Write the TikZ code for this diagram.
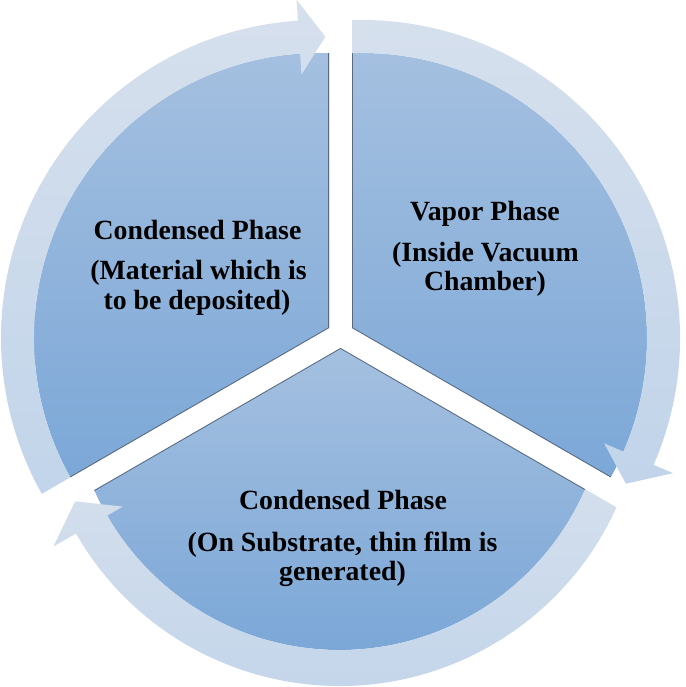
\documentclass[tikz,border=0pt]{standalone}
\usepackage{fontspec}
\setmainfont{Liberation Serif}
\definecolor{secTop}{RGB}{165,192,224}
\definecolor{secBot}{RGB}{123,167,215}
\definecolor{ringTop}{RGB}{214,224,237}
\definecolor{ringBot}{RGB}{193,212,234}
\definecolor{edgeC}{RGB}{90,105,125}
\begin{document}
\begin{tikzpicture}[x=1pt,y=1pt,
  sectorshade/.style={top color=secTop,bottom color=secBot},
  ringshade/.style={top color=ringTop,bottom color=ringBot},
  edgeline/.style={draw=edgeC,line width=1.6pt},
  lbl/.style={font=\fontsize{27.8}{29}\selectfont\bfseries,anchor=base,inner sep=0pt,text=black}]
\useasboundingbox (0,0) rectangle (685,687);
\coordinate (C1) at (319,349);
\coordinate (C2) at (362,349);
\coordinate (C3) at (339.5,305);
\coordinate (A1) at (329,359);
\coordinate (A2) at (352,359);
\coordinate (A3) at (340.5,339);

% top-left sector
\begin{scope}
  \clip (C1) circle[radius=285];
  \clip (A1) -- (329,1159) -- (-363.8,759) -- (-363.8,-41) -- cycle;
  \shade[sectorshade] (30,205) rectangle (330,640);
  \draw[edgeline] (329,1159) -- (A1) -- (-363.8,-41);
\end{scope}
% top-right sector
\begin{scope}
  \clip (C2) circle[radius=285];
  \clip (A2) -- (352,1159) -- (1044.8,759) -- (1044.8,-41) -- cycle;
  \shade[sectorshade] (350,205) rectangle (650,640);
  \draw[edgeline] (352,1159) -- (A2) -- (1044.8,-41);
\end{scope}
% bottom sector
\begin{scope}
  \clip (C3) circle[radius=268];
  \clip (A3) -- (-352.3,-61) -- (340.5,-461) -- (1033.3,-61) -- cycle;
  \shade[sectorshade] (60,37) rectangle (620,340);
  \draw[edgeline] (-352.3,-61) -- (A3) -- (1033.3,-61);
\end{scope}

% arrow around top-left sector
\begin{scope}
  \clip (-363.8,-41) -- (1021.8,759) -- (1021.8,1200) -- (-363.8,1200) -- cycle;
  \shade[ringshade,shift={(C1)}] (215:285) arc[start angle=215,end angle=93.8,radius=285]
    -- (93.8:264) -- (88.8:301.5) -- (93.8:339) -- (93.8:318)
    arc[start angle=93.8,end angle=215,radius=318] -- cycle;
\end{scope}
% arrow around top-right sector
\begin{scope}
  \clip (352,-500) rectangle (1000,1200);
  \shade[ringshade,shift={(C2)}] (95:285) arc[start angle=95,end angle=-23.5,radius=285]
    -- (-23.5:264) -- (-28.9:301.5) -- (-23.5:339) -- (-23.5:318)
    arc[start angle=-23.5,end angle=95,radius=318] -- cycle;
\end{scope}
% arrow around bottom sector
\begin{scope}
  \clip (-352.3,739) -- (1033.3,-61) -- (1033.3,-1000) -- (-352.3,-1000) -- cycle;
  \shade[ringshade,shift={(C3)}] (-15:268) arc[start angle=-15,end angle=-150.1,radius=268]
    -- (-150.1:250) -- (-155.7:290) -- (-150.1:330) -- (-150.1:304)
    arc[start angle=-150.1,end angle=-15,radius=304] -- cycle;
\end{scope}

\node[lbl] (tl1) at (197.5,447) {Condensed Phase};
\node[lbl] (tl2) at (198.5,407.4) {(Material which is};
\node[lbl] (tl3) at (197,377.5) {to be deposited)};
\node[lbl] (tr1) at (485,466) {Vapor Phase};
\node[lbl] (tr2) at (485.5,425) {(Inside Vacuum};
\node[lbl] (tr3) at (485,396) {Chamber)};
\node[lbl] (b1) at (343,177.5) {Condensed Phase};
\node[lbl] (b2) at (342.5,135) {(On Substrate, thin film is};
\node[lbl] (b3) at (342.5,106) {generated)};
\end{tikzpicture}
\end{document}
